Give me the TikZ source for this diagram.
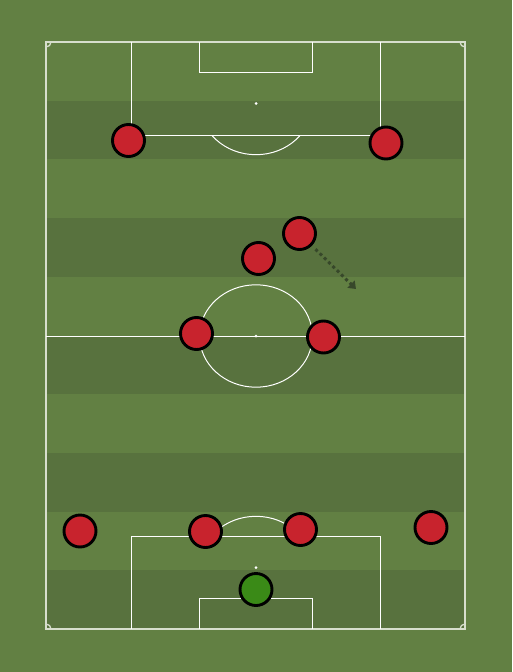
\documentclass[tikz,border=0pt]{standalone}
\usetikzlibrary{arrows.meta,shadows}
\definecolor{grassL}{RGB}{98,128,67}
\definecolor{grassD}{RGB}{88,114,62}
\definecolor{pred}{RGB}{200,35,45}
\definecolor{pgreen}{RGB}{58,138,23}
\definecolor{arrowc}{RGB}{55,72,42}
\definecolor{edgeline}{RGB}{215,222,205}
\tikzset{
  pline/.style={white, line width=1pt},
  outline/.style={edgeline, line width=1.3pt},
  player/.style={circle, draw=black, line width=2.9pt, fill=pred, minimum size=32pt, inner sep=0pt,
     drop shadow={shadow xshift=0pt, shadow yshift=-1pt, opacity=0.25}},
  keeper/.style={player, fill=pgreen},
  runarrow/.style={arrowc, line width=3pt, dash pattern=on 3pt off 3pt, -{Triangle[length=7pt,width=10pt]}, shorten <=5pt}
}
\begin{document}
\begin{tikzpicture}[x=1pt,y=-1pt]
\useasboundingbox (0,0) rectangle (512,672);
\fill[grassL] (0,0) rectangle (512,672);
% stripes
\foreach \i in {1,3,5,7,9} {
  \fill[grassD] (46,{42+\i*58.7}) rectangle (465,{42+(\i+1)*58.7});
}
% outer boundary
\draw[outline] (46,42) rectangle (465,629);
% halfway line
\draw[pline] (46,336) -- (465,336);
% centre circle and spot
\draw[pline] (256,336) ellipse [x radius=56.4, y radius=51.2];
\fill[white] (256,336) circle (1.5);
% top penalty area
\draw[pline] (131,42) -- (131,135) -- (380,135) -- (380,42);
\draw[pline] (199.5,42) -- (199.5,72.7) -- (312.5,72.7) -- (312.5,42);
\fill[white] (256,103.5) circle (1.5);
\begin{scope}
  \clip (0,135.5) rectangle (512,300);
  \draw[pline] (256,103.5) ellipse [x radius=56.4, y radius=51.2];
\end{scope}
% bottom penalty area
\draw[pline] (131,629) -- (131,536.7) -- (380,536.7) -- (380,629);
\draw[pline] (199.5,629) -- (199.5,598.3) -- (312.5,598.3) -- (312.5,629);
\fill[white] (256,567.5) circle (1.5);
\begin{scope}
  \clip (0,536.2) rectangle (512,400);
  \draw[pline] (256,567.5) ellipse [x radius=56.4, y radius=51.2];
\end{scope}
% corner arcs
\draw[outline] (51,42) arc[start angle=0, end angle=90, radius=5];
\draw[outline] (460,42) arc[start angle=180, end angle=90, radius=5];
\draw[outline] (51,629) arc[start angle=0, end angle=-90, radius=5];
\draw[outline] (460,629) arc[start angle=180, end angle=270, radius=5];
% run target
\coordinate (t3) at (356,289);
% players
\node[player] (p1) at (128.5,140.5) {};
\node[player] (p2) at (386,143) {};
\node[player] (p4) at (258.5,258.5) {};
\node[player] (p5) at (196.5,333.5) {};
\node[player] (p6) at (323.5,337) {};
\node[player] (p7) at (80,531) {};
\node[player] (p8) at (205.5,531.5) {};
\node[player] (p9) at (300.5,529.5) {};
\node[player] (p10) at (431,527.5) {};
\node[keeper] (gk) at (256,589.5) {};
\node[player] (p3) at (299.5,233.5) {};
\draw[runarrow] (p3) -- (t3);
\end{tikzpicture}
\end{document}
